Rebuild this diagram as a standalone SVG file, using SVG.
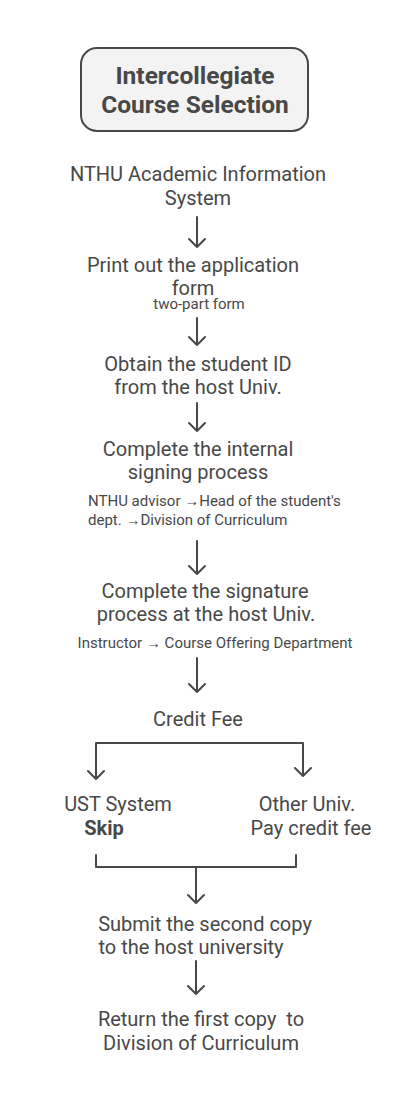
<svg xmlns="http://www.w3.org/2000/svg" width="402" height="1117" viewBox="0 0 402 1117">
<style>
.t{font-family:Roboto,"Liberation Sans",sans-serif;font-size:20px;fill:#484848;text-anchor:middle}
.s{font-family:Roboto,"Liberation Sans",sans-serif;font-size:15px;fill:#484848}
.h{font-size:24.5px;font-weight:bold}
.b{font-weight:bold}
.c{fill:none;stroke:#484848;stroke-width:2;stroke-linecap:round;stroke-linejoin:round}
</style>
<rect width="402" height="1117" fill="#ffffff"/>
<g id="title">
<rect x="81" y="48" width="227" height="83" rx="16" fill="#f3f3f3" stroke="#484848" stroke-width="2"/>
<text class="t h" x="195" y="84">Intercollegiate</text>
<text class="t h" x="195" y="113">Course Selection</text>
</g>
<g id="n1"><text class="t" x="198" y="181">NTHU Academic Information</text><text class="t" x="198" y="205">System</text></g>
<g id="n2"><text class="t" x="193" y="272">Print out the application</text><text class="t" x="193" y="295">form</text><text class="s" x="199" y="309" text-anchor="middle">two-part form</text></g>
<g id="n3"><text class="t" x="198" y="371">Obtain the student ID</text><text class="t" x="198" y="394">from the host Univ.</text></g>
<g id="n4"><text class="t" x="198" y="456">Complete the internal</text><text class="t" x="198" y="479">signing process</text>
<text class="s" x="88" y="506">NTHU advisor →Head of the student's</text><text class="s" x="88" y="525">dept. →Division of Curriculum</text></g>
<g id="n5"><text class="t" x="205" y="598">Complete the signature</text><text class="t" x="206" y="621">process at the host Univ.</text>
<text class="s" x="215" y="648" text-anchor="middle">Instructor → Course Offering Department</text></g>
<g id="n6"><text class="t" x="198" y="726">Credit Fee</text></g>
<g id="n7"><text class="t" x="118" y="811">UST System</text><text class="t b" x="104" y="835">Skip</text></g>
<g id="n8"><text class="t" x="307" y="811">Other Univ.</text><text class="t" x="311" y="835">Pay credit fee</text></g>
<g id="n9"><text class="t" x="205" y="931">Submit the second copy</text><text class="t" x="191" y="954">to the host university</text></g>
<g id="n10"><text class="t" x="201" y="1026" style="white-space:pre">Return the first copy  to</text><text class="t" x="201" y="1050">Division of Curriculum</text></g>
<g id="connectors" class="c">
<path d="M197 217V247M189 239L197 247L205 239"/>
<path d="M197 318V345M189 337L197 345L205 337"/>
<path d="M197 403V431M189 423L197 431L205 423"/>
<path d="M197 541V574M189 566L197 574L205 566"/>
<path d="M197 658V692M189 684L197 692L205 684"/>
<path d="M96 779V743H303V776M88 771L96 779L104 771M295 768L303 776L311 768"/>
<path d="M96 855V867H296V855M196 867V903M188 895L196 903L204 895"/>
<path d="M196 961V994M188 986L196 994L204 986"/>
</g>
</svg>
